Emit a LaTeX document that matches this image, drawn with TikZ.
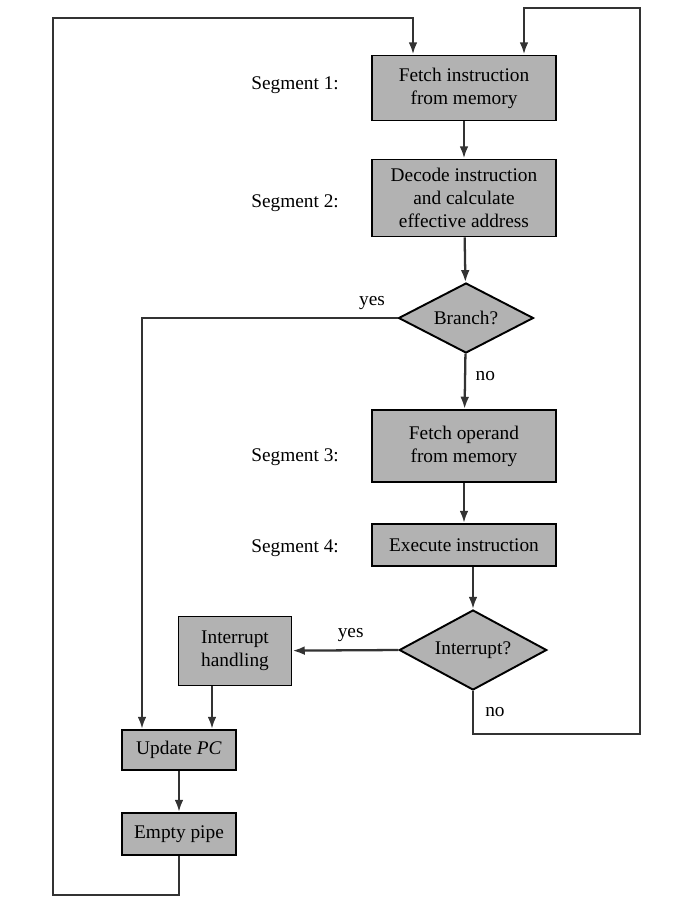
\documentclass[tikz,border=0pt]{standalone}
\usepackage{fontspec}
\setmainfont{Liberation Serif}
\usetikzlibrary{shapes.geometric,arrows.meta}
\begin{document}
\begin{tikzpicture}[x=0.02cm,y=-0.02cm,
  font=\fontsize{11}{13}\selectfont,
  box/.style={draw,line width=1.1pt,fill=gray!60,align=center,inner sep=0pt},
  dia/.style={draw,line width=1.1pt,fill=gray!60,diamond,inner sep=0pt,aspect=1.9},
  ln/.style={line width=1.3pt,draw=black!80},
  arr/.style={ln,-{Latex[length=7pt,width=5pt]}},
  lab/.style={anchor=east}]
\useasboundingbox (0,0) rectangle (692,921);
\node[box,minimum width=184\pgflinewidth*0+3.68cm,minimum height=1.3cm] (b1) at (464,88) {Fetch instruction\\from memory};
\node[box,minimum width=3.68cm,minimum height=1.54cm] (b2) at (464,198) {Decode instruction\\and calculate\\effective address};
\node[dia,minimum width=2.7cm,minimum height=1.4cm] (d1) at (466,318) {Branch?};
\node[box,minimum width=3.68cm,minimum height=1.44cm] (b3) at (464,446) {Fetch operand\\from memory};
\node[box,minimum width=3.68cm,minimum height=0.84cm] (b4) at (464,545) {Execute instruction};
\node[dia,minimum width=2.95cm,minimum height=1.6cm] (d2) at (473,650) {Interrupt?};
\node[box,minimum width=2.26cm,minimum height=1.38cm] (ih) at (235,651) {Interrupt\\handling};
\node[box,minimum width=2.28cm,minimum height=0.8cm] (up) at (179,750) {Update \textit{PC}};
\node[box,minimum width=2.28cm,minimum height=0.84cm] (ep) at (179,834) {Empty pipe};
\node[lab] (s1) at (345,85) {Segment 1:};
\node[lab] (s2) at (345,203) {Segment 2:};
\node[lab] (s3) at (345,457) {Segment 3:};
\node[lab] (s4) at (345,548) {Segment 4:};
\coordinate (tl) at (53,18);
\coordinate (bl) at (53,895);
\coordinate (tr) at (640,8);
\coordinate (br) at (640,734);
\draw[arr] (b1) -- (b2);
\draw[arr] (b2) -- (d1);
\draw[arr] (d1) -- node[right=2pt,pos=0.4]{no} (b3);
\draw[arr] (b3) -- (b4);
\draw[arr] (b4.south -| d2.north) -- (d2);
\draw[arr] (d2.west) -- node[above=1pt,pos=0.45]{yes} (ih);
\draw[arr] (d1.west) -- node[above=1pt,pos=0.1]{yes} (d1.west -| 142,0) -- (142,0 |- up.north);
\draw[arr] (ih.south -| 212,0) -- (212,0 |- up.north);
\draw[arr] (up) -- (ep);
\draw[arr] (ep.south) |- (bl) -- (tl) -| (413,0 |- b1.north);
\draw[arr] (d2.south) -- node[right=3pt,pos=0.5]{no} (d2.south |- br) -- (br) -- (tr) -| (524,0 |- b1.north);
\end{tikzpicture}
\end{document}
